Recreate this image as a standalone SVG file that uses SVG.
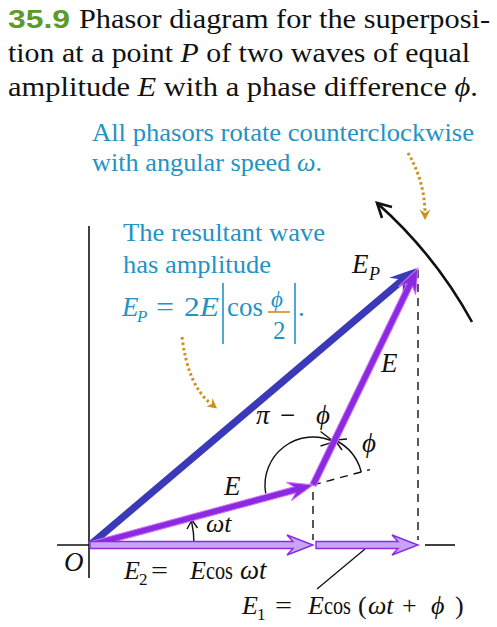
<svg xmlns="http://www.w3.org/2000/svg" width="497" height="627" viewBox="0 0 497 627">
<style>
.t{font-family:"Liberation Serif","Times New Roman",serif;fill:#111}
.i{font-style:italic}
.b{font-family:"Liberation Serif","Times New Roman",serif;fill:#2592c4}
.ax{stroke:#111;stroke-width:1.6;fill:none}
.dash{stroke:#111;stroke-width:1.4;stroke-dasharray:8,6;fill:none}
.arc{stroke:#111;stroke-width:1.4;fill:none}
.rot{stroke:#111;stroke-width:2.6;fill:none;stroke-linejoin:miter}
.gold{stroke:#c9921c;stroke-width:3;stroke-dasharray:2.5,2.8;fill:none}
.goldh{fill:#c9921c}
.ep{fill:#3a3ab8}
.pp{fill:#8a2be2;stroke:#d070f8;stroke-width:1}
.lv{fill:#c8a4f6;stroke:#8a2be2;stroke-width:1.4;stroke-linejoin:miter}
</style>
<rect width="497" height="627" fill="#fff"/>
<g id="caption">
<text x="8" y="28" font-family="Liberation Sans,Arial,sans-serif" font-weight="bold" font-size="26" fill="#5b9b2a" textLength="62" lengthAdjust="spacingAndGlyphs">35.9</text>
<text class="t" x="79" y="28" font-size="28" textLength="411" lengthAdjust="spacingAndGlyphs">Phasor diagram for the superposi-</text>
<text class="t" x="8" y="62" font-size="28" textLength="462" lengthAdjust="spacingAndGlyphs">tion at a point <tspan class="i">P</tspan> of two waves of equal</text>
<text class="t" x="8" y="96" font-size="28" textLength="470" lengthAdjust="spacingAndGlyphs">amplitude <tspan class="i">E</tspan> with a phase difference <tspan class="i">ϕ</tspan>.</text>
</g>
<g id="note-rotation">
<text class="b" x="92" y="141" font-size="25" textLength="382" lengthAdjust="spacingAndGlyphs">All phasors rotate counterclockwise</text>
<text class="b" x="92" y="171" font-size="25" textLength="230" lengthAdjust="spacingAndGlyphs">with angular speed <tspan class="i">ω</tspan>.</text>
</g>
<g id="note-resultant">
<text class="b" x="123" y="241" font-size="25" textLength="202" lengthAdjust="spacingAndGlyphs">The resultant wave</text>
<text class="b" x="123" y="273" font-size="25" textLength="148" lengthAdjust="spacingAndGlyphs">has amplitude</text>
<text class="b i" x="122" y="316" font-size="27">E</text>
<text class="b i" x="137" y="322" font-size="17">P</text>
<text class="b" x="156" y="316" font-size="27" textLength="18" lengthAdjust="spacingAndGlyphs">=</text>
<text class="b" x="184" y="316" font-size="27" textLength="35" lengthAdjust="spacingAndGlyphs">2<tspan class="i">E</tspan></text>
<line x1="223" y1="283" x2="223" y2="344" stroke="#2592c4" stroke-width="1.6"/>
<text class="b" x="227" y="316" font-size="27" textLength="36" lengthAdjust="spacingAndGlyphs">cos</text>
<text class="b i" x="271" y="307" font-size="23">ϕ</text>
<line x1="268" y1="312" x2="290" y2="312" stroke="#c9921c" stroke-width="1.6"/>
<text class="b" x="273" y="339" font-size="25">2</text>
<line x1="295" y1="283" x2="295" y2="344" stroke="#2592c4" stroke-width="1.6"/>
<text class="b" x="298" y="316" font-size="27">.</text>
</g>
<g id="axes">
<line class="ax" x1="89" y1="226" x2="89" y2="578"/>
<line class="ax" x1="57" y1="545" x2="90" y2="545"/>
<line class="ax" x1="425" y1="545" x2="455" y2="545"/>
</g>
<g id="connectors">
<line class="dash" x1="418" y1="270" x2="418" y2="540"/>
<line class="dash" x1="313" y1="492" x2="313" y2="540"/>
<line class="dash" x1="313" y1="485" x2="370" y2="469.6"/>
<path class="rot" d="M472,322 A444,444 0 0 0 377,203"/>
<polyline class="rot" points="392,207 377,203 382,218"/>
<path class="arc" d="M194,545 A104,104 0 0 0 191.5,521"/>
<polyline class="arc" points="197.5,528 192,520 187,529"/>
<path class="arc" d="M361.3,472 A50,50 0 0 0 335,440"/>
<polyline class="arc" points="347,439 335,440 342,450"/>
<path class="arc" d="M265.7,493.3 A48,48 0 0 1 333.9,441.8"/>
<polyline class="arc" points="320.5,431.5 333.9,441.8 320.5,446"/>
<path class="gold" d="M408,153 Q424,180 425,211"/>
<polygon class="goldh" points="425,220 419.5,209.5 425,213 430.5,209.5"/>
<path class="gold" d="M182,337 Q188,385 210,403"/>
<polygon class="goldh" points="217,408.5 206.5,406.5 211.8,404 212.5,398"/>
<line x1="365" y1="549" x2="317" y2="589" stroke="#111" stroke-width="1.3"/>
</g>
<g id="phasor-EP" transform="translate(90,545) rotate(-40.28)">
<path class="ep" d="M0,-3.6 L407,-3.6 L401,-10.5 L428,0 L401,10.5 L407,3.6 L0,3.6 Z"/>
</g>
<g id="phasor-E-a" transform="translate(90,545) rotate(-15.06)">
<path class="pp" d="M0,-3.2 L212,-3.2 L206,-9.5 L231,0 L206,9.5 L212,3.2 L0,3.2 Z"/>
</g>
<g id="phasor-E-b" transform="translate(313,485) rotate(-64.18)">
<path class="pp" d="M0,-3.2 L222,-3.2 L216,-9.5 L241,0 L216,9.5 L222,3.2 L0,3.2 Z"/>
</g>
<g id="phasor-E2" transform="translate(90,545)">
<path class="lv" d="M0,-3.5 L203,-3.5 L197,-10 L223,0 L197,10 L203,3.5 L0,3.5 Z"/>
</g>
<g id="phasor-E1" transform="translate(316,545)">
<path class="lv" d="M0,-3.5 L82,-3.5 L76,-10 L102,0 L76,10 L82,3.5 L0,3.5 Z"/>
</g>
<g id="labels">
<text class="t i" x="352" y="273" font-size="27">E</text>
<text class="t i" x="369" y="280" font-size="18">P</text>
<text class="t i" x="381" y="372" font-size="27">E</text>
<text class="t i" x="256" y="424" font-size="27">π</text>
<text class="t" x="280" y="424" font-size="27">−</text>
<text class="t i" x="316" y="424" font-size="27">ϕ</text>
<text class="t i" x="362" y="452" font-size="27">ϕ</text>
<text class="t i" x="224" y="495" font-size="27">E</text>
<text class="t i" x="206" y="532" font-size="26">ωt</text>
<text class="t i" x="64" y="571" font-size="27">O</text>
<text class="t i" x="124" y="579" font-size="26">E</text>
<text class="t" x="139" y="585" font-size="17">2</text>
<text class="t" x="151" y="579" font-size="26" textLength="17" lengthAdjust="spacingAndGlyphs">=</text>
<text class="t i" x="190" y="579" font-size="26">E</text>
<text class="t" x="206" y="579" font-size="26" textLength="27" lengthAdjust="spacingAndGlyphs">cos</text>
<text class="t i" x="240" y="579" font-size="27">ωt</text>
<text class="t i" x="242" y="614" font-size="26">E</text>
<text class="t" x="257" y="620" font-size="17">1</text>
<text class="t" x="275" y="614" font-size="26" textLength="17" lengthAdjust="spacingAndGlyphs">=</text>
<text class="t i" x="308" y="614" font-size="26">E</text>
<text class="t" x="324" y="614" font-size="26" textLength="27" lengthAdjust="spacingAndGlyphs">cos</text>
<text class="t" x="358" y="614" font-size="26">(</text>
<text class="t i" x="368" y="614" font-size="26">ωt</text>
<text class="t" x="402" y="614" font-size="26">+</text>
<text class="t i" x="431" y="614" font-size="26">ϕ</text>
<text class="t" x="455" y="614" font-size="26">)</text>
</g>
</svg>
